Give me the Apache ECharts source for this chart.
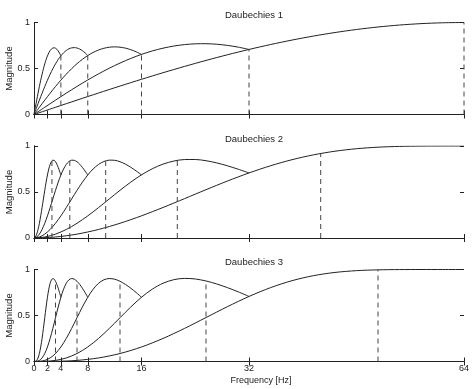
<!DOCTYPE html>
<html>
<head>
<meta charset="utf-8">
<script src="https://cdn.jsdelivr.net/npm/echarts@6/dist/echarts.min.js"></script>
<style>html,body{margin:0;padding:0;background:#fff}#c{width:474px;height:389px}</style>
</head>
<body>
<div id="c"></div>
<script>
// Frequency sample positions (Hz) for each decomposition level
const freqL1 = [0,3.2,6.4,9.6,12.8,16,19.2,22.4,25.6,28.8,32,35.2,38.4,41.6,44.8,48,51.2,54.4,57.6,60.8,64];
const freqL2 = [0,1.6,3.2,4.8,6.4,8,9.6,11.2,12.8,14.4,16,17.6,19.2,20.8,22.4,24,25.6,27.2,28.8,30.4,32];
const freqL3 = [0,0.8,1.6,2.4,3.2,4,4.8,5.6,6.4,7.2,8,8.8,9.6,10.4,11.2,12,12.8,13.6,14.4,15.2,16];
const freqL4 = [0,0.4,0.8,1.2,1.6,2,2.4,2.8,3.2,3.6,4,4.4,4.8,5.2,5.6,6,6.4,6.8,7.2,7.6,8];
const freqL5 = [0,0.2,0.4,0.6,0.8,1,1.2,1.4,1.6,1.8,2,2.2,2.4,2.6,2.8,3,3.2,3.4,3.6,3.8,4];

// Daubechies 1 magnitudes
const db1L1 = [0,0.0785,0.1564,0.2334,0.3090,0.3827,0.4540,0.5225,0.5878,0.6494,0.7071,0.7604,0.8090,0.8526,0.8910,0.9239,0.9511,0.9724,0.9877,0.9969,1];
const db1L2 = [0,0.0784,0.1559,0.2318,0.3052,0.3753,0.4414,0.5029,0.5590,0.6093,0.6533,0.6906,0.7208,0.7439,0.7597,0.7682,0.7694,0.7636,0.7510,0.7321,0.7071];
const db1L3 = [0,0.0784,0.1558,0.2314,0.3043,0.3735,0.4384,0.4981,0.5522,0.5998,0.6407,0.6745,0.7009,0.7198,0.7312,0.7351,0.7318,0.7215,0.7046,0.6817,0.6533];
const db1L4 = [0,0.0784,0.1558,0.2313,0.3040,0.3731,0.4376,0.4970,0.5504,0.5975,0.6376,0.6706,0.6961,0.7140,0.7243,0.7271,0.7228,0.7115,0.6936,0.6699,0.6407];
const db1L5 = [0,0.0784,0.1558,0.2313,0.3040,0.3730,0.4374,0.4967,0.5500,0.5969,0.6369,0.6696,0.6949,0.7125,0.7226,0.7252,0.7205,0.7090,0.6909,0.6670,0.6376];
const db1Cut = [64,32,16,8,4];
const db1CutVal = [1,0.7071,0.6533,0.6407,0.6376];

// Daubechies 2 magnitudes
const db2L1 = [0,0.0106,0.0420,0.0927,0.1600,0.2410,0.3316,0.4277,0.5250,0.6194,0.7071,0.7851,0.8511,0.9039,0.9434,0.9705,0.9871,0.9957,0.9991,0.9999,1];
const db2L2 = [0,0.0106,0.0420,0.0926,0.1599,0.2404,0.3301,0.4243,0.5182,0.6070,0.6863,0.7525,0.8030,0.8364,0.8528,0.8533,0.8401,0.8162,0.7844,0.7474,0.7071];
const db2L3 = [0,0.0106,0.0420,0.0926,0.1599,0.2404,0.3300,0.4241,0.5178,0.6061,0.6848,0.7502,0.7995,0.8315,0.8462,0.8447,0.8293,0.8030,0.7687,0.7292,0.6863];
const db2L4 = [0,0.0106,0.0420,0.0926,0.1599,0.2404,0.3300,0.4241,0.5177,0.6061,0.6847,0.7500,0.7993,0.8312,0.8457,0.8441,0.8286,0.8021,0.7676,0.7279,0.6848];
const db2L5 = [0,0.0106,0.0420,0.0926,0.1599,0.2404,0.3300,0.4241,0.5177,0.6061,0.6847,0.7500,0.7993,0.8312,0.8457,0.8441,0.8285,0.8020,0.7676,0.7278,0.6847];
const db2Cut = [42.67,21.33,10.67,5.33,2.67];
const db2CutVal = [0.9186,0.8438,0.8384,0.8380,0.8380];

// Daubechies 3 magnitudes
const db3L1 = [0,0.0015,0.0119,0.0386,0.0867,0.1578,0.2504,0.3595,0.4777,0.5964,0.7071,0.8027,0.8785,0.9331,0.9681,0.9875,0.9962,0.9993,0.9999,1.0000,1];
const db3L2 = [0,0.0015,0.0119,0.0386,0.0866,0.1578,0.2503,0.3589,0.4759,0.5922,0.6982,0.7862,0.8505,0.8892,0.9034,0.8971,0.8752,0.8426,0.8026,0.7571,0.7071];
const db3L3 = [0,0.0015,0.0119,0.0386,0.0866,0.1578,0.2503,0.3589,0.4759,0.5921,0.6980,0.7858,0.8499,0.8881,0.9018,0.8947,0.8719,0.8382,0.7969,0.7499,0.6982];
const db3L4 = [0,0.0015,0.0119,0.0386,0.0866,0.1578,0.2503,0.3589,0.4759,0.5921,0.6980,0.7858,0.8499,0.8881,0.9018,0.8947,0.8719,0.8381,0.7967,0.7498,0.6980];
const db3L5 = [0,0.0015,0.0119,0.0386,0.0866,0.1578,0.2503,0.3589,0.4759,0.5921,0.6980,0.7858,0.8499,0.8881,0.9018,0.8947,0.8719,0.8381,0.7967,0.7498,0.6980];
const db3Cut = [51.2,25.6,12.8,6.4,3.2];
const db3CutVal = [0.9962,0.8752,0.8719,0.8719,0.8719];

const xTicks = [0,2,4,8,16,32,64];
const titles = ['Daubechies 1','Daubechies 2','Daubechies 3'];
const yName = 'Magnitude';
const xName = 'Frequency [Hz]';

const freqs = [freqL1,freqL2,freqL3,freqL4,freqL5];
const panels = [
  {curves:[db1L1,db1L2,db1L3,db1L4,db1L5], cut:db1Cut, cutVal:db1CutVal},
  {curves:[db2L1,db2L2,db2L3,db2L4,db2L5], cut:db2Cut, cutVal:db2CutVal},
  {curves:[db3L1,db3L2,db3L3,db3L4,db3L5], cut:db3Cut, cutVal:db3CutVal}
];

const FONT = 'Liberation Sans, Arial, sans-serif';
const INK = '#222';
const GRID_L = 34, GRID_R = 10, W = 474 - GRID_L - GRID_R;
const gridTops = [22.5,146,269.5];
const gridH = 92;

const grid = [], xAxis = [], yAxis = [], series = [], title = [], graphic = [];
panels.forEach((p, i) => {
  grid.push({left:GRID_L, right:GRID_R, top:gridTops[i], height:gridH, show:false});
  const xc = () => ({
    type:'value', min:0, max:64, gridIndex:i,
    axisLine:{show:true, lineStyle:{color:INK, width:1}},
    axisTick:{show:true, inside:true, length:4, customValues:xTicks, lineStyle:{color:INK}},
    splitLine:{show:false}
  });
  xAxis.push(Object.assign(xc(), {
    position:'bottom',
    axisLabel:{show:i===2, customValues:xTicks, margin:3, color:INK, fontSize:9, fontFamily:FONT}
  }));
  xAxis.push(Object.assign(xc(), {position:'top', axisLabel:{show:false}}));
  const yc = () => ({
    type:'value', min:0, max:1, interval:0.5, gridIndex:i,
    splitLine:{show:false}
  });
  yAxis.push(Object.assign(yc(), {position:'left',
    axisLine:{show:true, lineStyle:{color:INK, width:1}}, axisTick:{show:false},
    axisLabel:{show:true, margin:4, color:INK, fontSize:9, fontFamily:FONT}}));
  yAxis.push(Object.assign(yc(), {position:'right',
    axisLine:{show:true, lineStyle:{color:INK, width:1}}, axisTick:{show:false}, axisLabel:{show:false}}));
  yAxis.push(Object.assign(yc(), {position:'right', offset:-W,
    axisLine:{show:false}, axisTick:{show:true, length:4, lineStyle:{color:INK}}, axisLabel:{show:false}}));
  yAxis.push(Object.assign(yc(), {position:'left', offset:-W,
    axisLine:{show:false}, axisTick:{show:true, length:4, lineStyle:{color:INK}}, axisLabel:{show:false}}));

  p.curves.forEach((vals, k) => {
    series.push({
      type:'line', xAxisIndex:2*i, yAxisIndex:4*i, smooth:0.3, showSymbol:false,
      silent:true, animation:false,
      lineStyle:{color:INK, width:1},
      data: vals.map((v, j) => [freqs[k][j], v])
    });
  });
  p.cut.forEach((x, k) => {
    series.push({
      type:'line', xAxisIndex:2*i, yAxisIndex:4*i, showSymbol:false, silent:true, animation:false,
      lineStyle:{color:'#444', width:1, type:[5,4]},
      data:[[x,0],[x,p.cutVal[k]]]
    });
  });
  title.push({text:titles[i], left:249, top:gridTops[i]-17, textAlign:'center',
    textStyle:{fontSize:9.5, fontWeight:'normal', color:INK, fontFamily:FONT}});
  graphic.push({type:'text', x:4, y:gridTops[i]+gridH/2, rotation:Math.PI/2,
    style:{text:yName, fontSize:9.5, fontFamily:FONT, fill:INK, align:'center', verticalAlign:'top'}});
});
graphic.push({type:'text', x:261, y:376, style:{text:xName, fontSize:9, fontFamily:FONT, fill:INK, align:'center', verticalAlign:'top'}});

const chart = echarts.init(document.getElementById('c'), null, {renderer:'canvas'});
chart.setOption({animation:false, backgroundColor:'#fff', title, grid, xAxis, yAxis, series, graphic});
</script>
</body>
</html>
